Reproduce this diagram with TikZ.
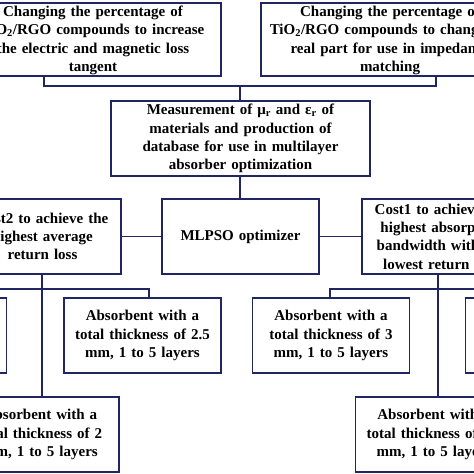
\documentclass[tikz,border=0pt]{standalone}
\usepackage{fontspec}
\setmainfont{Liberation Serif}
\definecolor{navy}{RGB}{32,38,100}
\begin{document}
\begin{tikzpicture}[x=1pt,y=-1pt,
  box/.style={draw=navy,line width=1.8pt,fill=white,align=center,
    font=\fontsize{15}{18.3}\selectfont\bfseries,inner sep=0pt,
    minimum height=74pt,text=black},
  w157/.style={minimum width=157pt,text width=157pt},
  link/.style={draw=navy,line width=1.4pt}]
\useasboundingbox (0,0) rectangle (474,474);
\clip (0,0) rectangle (474,474);
\fill[white] (0,0) rectangle (474,474);
% top boxes
\node[box,minimum width=256pt,text width=256pt,minimum height=73pt] (tl) at (93,39.5)
 {\vphantom{Ag}\\[-16pt]Changing the percentage of\\TiO\textsubscript{2}/RGO compounds to increase\\the electric and magnetic loss\\tangent};
\node[box,minimum width=258pt,text width=258pt,minimum height=73pt] (tr) at (390,39.5)
 {\vphantom{Ag}\\[-16pt]Changing the percentage of\\TiO\textsubscript{2}/RGO compounds to change the\\real part for use in impedance\\matching};
\node[box,minimum width=259pt,text width=259pt,minimum height=75pt] (meas) at (240.5,138.5)
 {Measurement of μ\textsubscript{r} and ε\textsubscript{r} of\\materials and production of\\database for use in multilayer\\absorber optimization};
\node[box,w157,minimum height=75pt] (mlpso) at (240.5,236.5) {MLPSO optimizer};
\node[box,w157,minimum height=75pt] (cost2) at (42.5,236.5)
 {Cost2 to achieve the\\highest average\\return loss};
\node[box,w157,minimum height=75pt] (cost1) at (440.5,236.5)
 {Cost1 to achieve the\\highest absorption\\bandwidth with the\\lowest return loss};
% lower boxes
\node[box,w157,minimum height=75pt] (bL) at (-72,335.5) {};
\node[box,w157,minimum height=75pt] (b25) at (142.5,335.5)
 {Absorbent with a\\total thickness of 2.5\\mm, 1 to 5 layers};
\node[box,w157,minimum height=75pt] (b3) at (331,335.5)
 {Absorbent with a\\total thickness of 3\\mm, 1 to 5 layers};
\node[box,w157,minimum height=75pt] (bR) at (544,335.5) {};
\node[box,w157,minimum height=75pt] (b2) at (40.5,434.5)
 {Absorbent with a\\total thickness of 2\\mm, 1 to 5 layers};
\node[box,w157,minimum height=75pt] (b35) at (434,434.5)
 {Absorbent with a\\total thickness of 3.5\\mm, 1 to 5 layers};
% junction coordinates
\coordinate (jt) at (240,86);
\coordinate (jl) at (149,289);
\coordinate (jr) at (330,289);
% connectors
\draw[link] (tl.south -| 44,0) |- (jt) -| (tr.south -| 436,0);
\draw[link] (jt) -- (meas.north -| jt);
\draw[link] (meas.south -| jt) -- (mlpso.north -| jt);
\draw[link] (cost2.east) -- (mlpso.west);
\draw[link] (mlpso.east) -- (cost1.west);
\draw[link] (cost2.south -| 42,0) -- (b2.north -| 42,0);
\draw[link] (bL.north) |- (jl) -- (b25.north -| jl);
\draw[link] (cost1.south -| 438,0) -- (b35.north -| 438,0);
\draw[link] (bR.north) |- (jr) -- (b3.north -| jr);
\end{tikzpicture}
\end{document}
